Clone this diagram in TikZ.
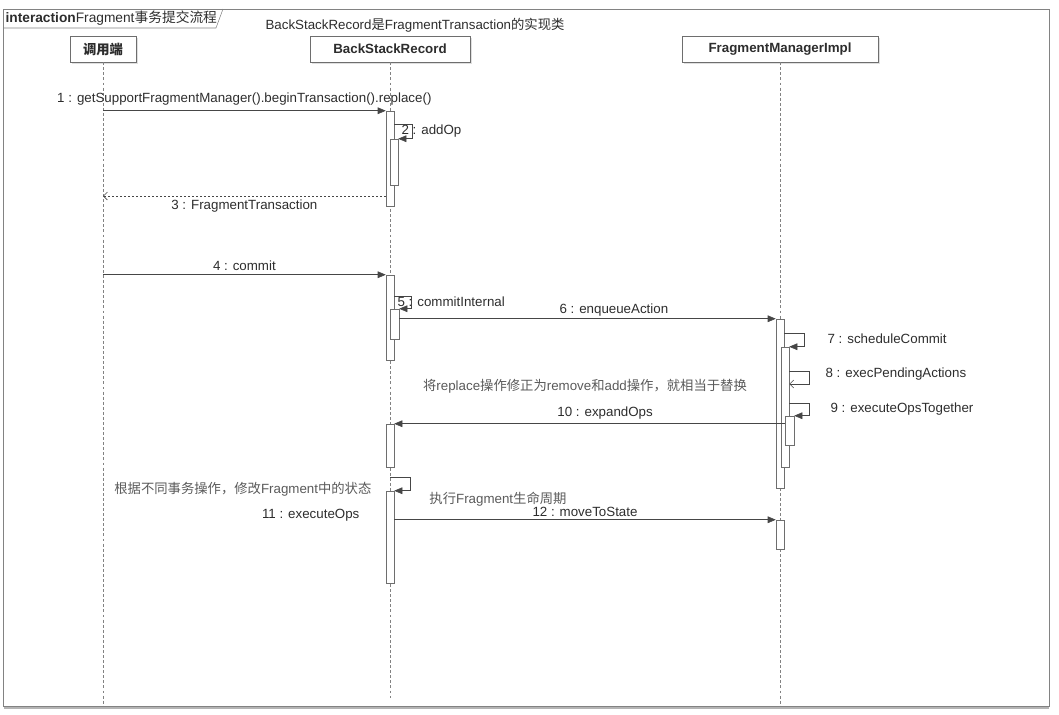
\documentclass[tikz,border=0pt]{standalone}
\usepackage{fontspec}
\setmainfont{Liberation Sans}
\newfontfamily\cjk{Noto Sans CJK SC}
\usetikzlibrary{calc, positioning, arrows.meta, fit, shadows}

\definecolor{linegray}{RGB}{70,70,70}
\definecolor{boxgray}{RGB}{110,110,110}
\definecolor{framegray}{RGB}{130,130,130}
\definecolor{textgray}{RGB}{45,45,45}
\definecolor{notegray}{RGB}{90,90,90}

\newcommand{\zh}[1]{{\cjk #1}}

\tikzset{
  lbl/.style={font=\fontsize{10}{12}\selectfont, text=textgray, inner sep=1pt},
  note/.style={lbl, text=notegray},
  head/.style={draw=boxgray, fill=white, inner sep=0pt, minimum height=19.5pt,
    font=\fontsize{10}{12}\selectfont\bfseries, text=textgray,
    drop shadow={shadow xshift=1.2pt, shadow yshift=-1.2pt, opacity=0.25}},
  act/.style={draw=boxgray, fill=white, inner sep=0pt},
  life/.style={draw=framegray, dash pattern=on 2.2pt off 1.6pt},
  msg/.style={draw=linegray, -{Triangle[length=6pt,width=5pt]}},
  ret/.style={draw=linegray, dash pattern=on 1.5pt off 1.5pt, -{Straight Barb[length=3pt,width=6pt]}},
  selfret/.style={draw=linegray, -{Straight Barb[length=3pt,width=6pt]}}
}

\begin{document}
\begin{tikzpicture}[x=0.75pt, y=-0.75pt]
\useasboundingbox (0,0) rectangle (1059,714);

% Frame
\draw[framegray!60, line width=1.2pt] (4,708) -- (1049,708);
\draw[framegray] (3,9) rectangle (1049,706);
\draw[framegray] (3,28) -- (216,28) -- (223,9);
\node[lbl, anchor=west, font=\fontsize{10.3}{12}\selectfont] (frametitle) at (4,18.5) {\textbf{interaction}Fragment\zh{事务提交流程}};
\node[lbl] (caption) at (415,25) {BackStackRecord\zh{是}FragmentTransaction\zh{的实现类}};

% Lifeline heads
\node[head, minimum width=49.5pt] (u) at (103,49) {\zh{调用端}};
\node[head, minimum width=120pt] (b) at (390,49) {BackStackRecord};
\node[head, minimum width=147pt] (f) at (780,49) {FragmentManagerImpl};

% Lifelines
\coordinate (uend) at (103,706);
\coordinate (bend) at (390,698);
\coordinate (fend) at (780,706);
\draw[life] (u) -- (uend);
\draw[life] (b) -- (bend);
\draw[life] (f) -- (fend);

% Activations of BackStackRecord
\node[act, fit={(386,111) (394,206)}] (a1) {};
\node[act, fit={(390,139) (398,185)}] (a2) {};
\node[act, fit={(386,275) (394,360)}] (a3) {};
\node[act, fit={(390,309) (399,339)}] (a4) {};
\node[act, fit={(386,424) (394,467)}] (a8) {};
\node[act, fit={(386,491) (394,583)}] (a9) {};

% Activations of FragmentManagerImpl
\node[act, fit={(776,319) (784,488)}] (a5) {};
\node[act, fit={(781,347) (789,467)}] (a6) {};
\node[act, fit={(785,416) (794,445)}] (a7) {};
\node[act, fit={(776,520) (784,549)}] (a10) {};

% 1 - 3: replace
\draw[msg] (u |- a1.north) -- node[lbl, above=3pt] {1 : getSupportFragmentManager().beginTransaction().replace()} (a1.north west);
\draw[msg] (a1.east |- 0,124) -- ++(18,0) |- (a2.north east);
\node[lbl, anchor=west] (l2) at (400,131) {2 : addOp};
\draw[ret] (a1.west |- 0,196) -- node[lbl, below=2pt] {3 : FragmentTransaction} (u |- 0,196);

% 4 - 6: commit
\draw[msg] (u |- a3.north) -- node[lbl, above=2pt] {4 : commit} (a3.north west);
\draw[msg] (a3.east |- 0,296) -- ++(17,0) |- (a4.north east);
\node[lbl, anchor=west] (l5) at (396,302) {5 : commitInternal};
\draw[msg] (a4.east |- a5.north) -- node[lbl, above=1pt, pos=0.57] {6 : enqueueAction} (a5.north west);

% 7 - 9: self calls of FragmentManagerImpl
\draw[msg] (a5.east |- 0,333) -- ++(20,0) |- (a6.north east);
\node[lbl, anchor=west] (l7) at (826,339) {7 : scheduleCommit};
\draw[selfret] (a6.east |- 0,371) -- ++(20,0) |- (a6.east |- 0,384);
\node[lbl, anchor=west] (l8) at (824,374) {8 : execPendingActions};
\draw[msg] (a6.east |- 0,403) -- ++(20,0) |- (a7.north east);
\node[lbl, anchor=west] (l9) at (829,409) {9 : executeOpsTogether};

% 10: expandOps
\node[note] (n10) at (585,386) {\zh{将}replace\zh{操作修正为}remove\zh{和}add\zh{操作，就相当于替换}};
\draw[msg] (a7.west |- a8.north) -- node[lbl, above=2pt, pos=0.46] {10 : expandOps} (a8.north east);

% 11 - 12: executeOps, moveToState
\draw[msg] (b |- 0,477) -- ++(20,0) |- (a9.north east);
\node[note, anchor=east] (n11) at (373,489) {\zh{根据不同事务操作，修改}Fragment\zh{中的状态}};
\node[lbl, anchor=east] (l11) at (361,515) {11 : executeOps};
\node[note] (n12) at (498,499) {\zh{执行}Fragment\zh{生命周期}};
\draw[msg] (a9.east |- a10.north) -- node[lbl, above=1pt] {12 : moveToState} (a10.north west);
\end{tikzpicture}
\end{document}
